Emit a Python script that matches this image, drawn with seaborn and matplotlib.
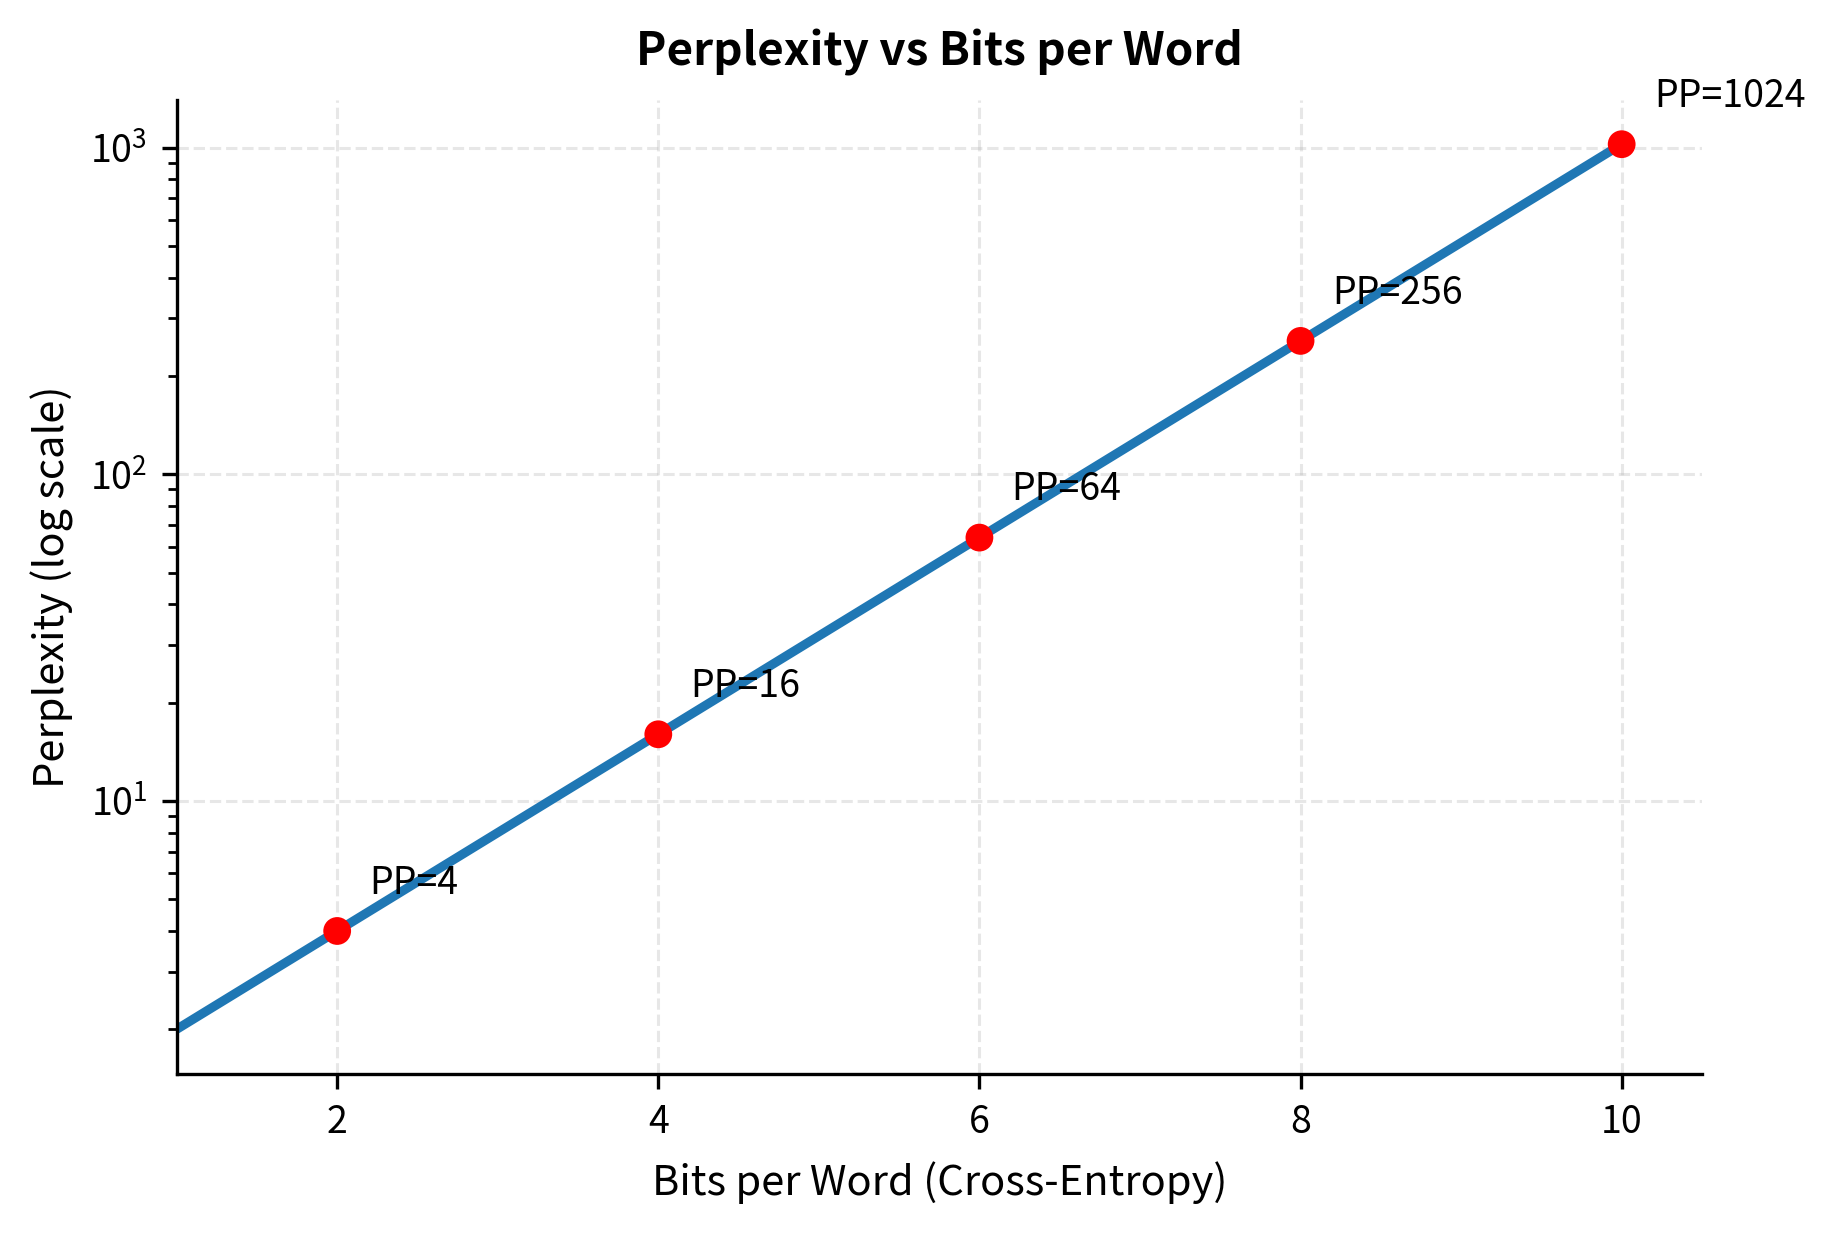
import numpy as np
import pandas as pd
import matplotlib
matplotlib.use("Agg")
import matplotlib.pyplot as plt
import seaborn as sns

# ===== data =====
bits = [1, 2, 3, 4, 5, 6, 7, 8, 9, 10]
perplexity = [2, 4, 8, 16, 32, 64, 128, 256, 512, 1024]
marked_bits = [2, 4, 6, 8, 10]
marked_pp = [4, 16, 64, 256, 1024]
labels = ["PP=4", "PP=16", "PP=64", "PP=256", "PP=1024"]

sns.set_style("ticks")
plt.rcParams["font.family"] = ["Noto Sans CJK JP", "DejaVu Sans"]
plt.rcParams["text.color"] = "black"
plt.rcParams["axes.labelcolor"] = "black"
plt.rcParams["xtick.color"] = "black"
plt.rcParams["ytick.color"] = "black"
plt.rcParams["axes.edgecolor"] = "black"

df_line = pd.DataFrame({"bits": bits, "pp": perplexity})
df_pts = pd.DataFrame({"bits": marked_bits, "pp": marked_pp})

fig, ax = plt.subplots(figsize=(9.17, 6.17), dpi=200)
fig.subplots_adjust(left=0.0963, right=0.928, top=0.919, bottom=0.130)

sns.lineplot(data=df_line, x="bits", y="pp", ax=ax, color="#1f77b4", linewidth=3.3)
sns.scatterplot(data=df_pts, x="bits", y="pp", ax=ax, color="red", s=100,
                edgecolor="none", zorder=5)

for b, p, t in zip(marked_bits, marked_pp, labels):
    ax.text(b + 0.2, p * 1.22, t, fontsize=13.5, ha="left", va="bottom")

ax.set_yscale("log")
ax.set_xlim(1, 10.5)
ax.grid(True, linestyle="--", color="#b0b0b0", alpha=0.3, linewidth=1.1)
sns.despine(ax=ax)
for s in ["left", "bottom"]:
    ax.spines[s].set_linewidth(1.2)
ax.tick_params(which="major", labelsize=13.5, length=5.5, width=1.2, pad=5)
ax.tick_params(which="minor", length=3.2, width=1.0)
ax.set_xlabel("Bits per Word (Cross-Entropy)", fontsize=15, labelpad=7)
ax.set_ylabel("Perplexity (log scale)", fontsize=15, labelpad=6)
ax.set_title("Perplexity vs Bits per Word", fontsize=16.5, fontweight="bold", pad=12.5)

plt.savefig("out.png", dpi=200)
